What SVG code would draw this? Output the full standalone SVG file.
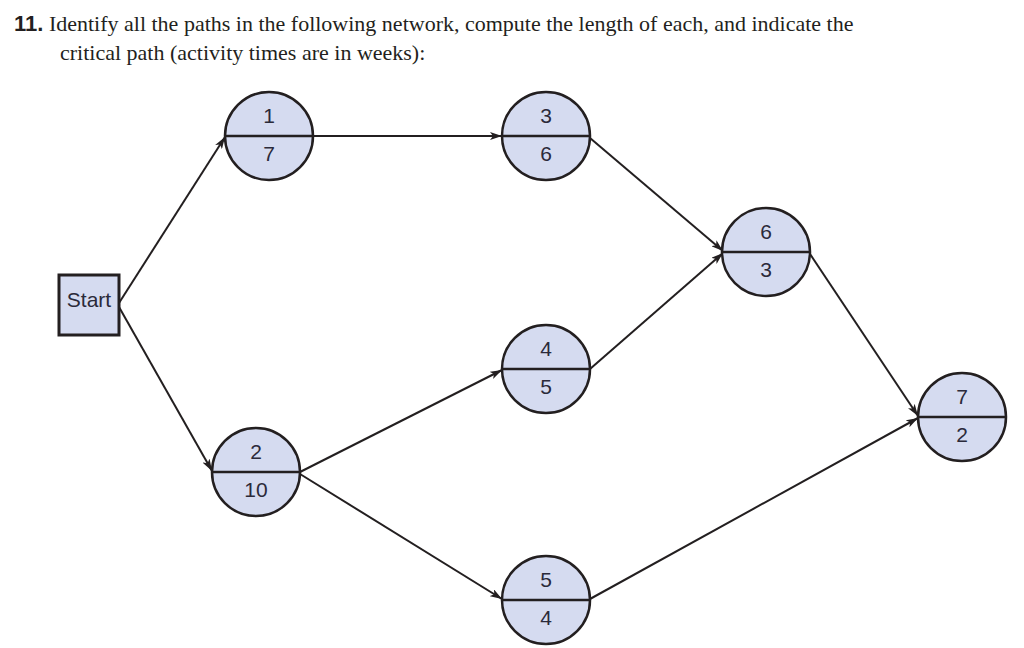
<svg xmlns="http://www.w3.org/2000/svg" width="1024" height="648" viewBox="0 0 1024 648">
<style>
.n circle{fill:#d5dbf0;stroke:#231f20;stroke-width:2.5}
.n line{stroke:#231f20;stroke-width:2.5}
.n text,.s text{font-family:"Liberation Sans",Arial,sans-serif;font-size:21px;fill:#2b2a3a;text-anchor:middle}
.e line{stroke:#231f20;stroke-width:2;marker-end:url(#a)}
.t{font-family:"Liberation Serif","Times New Roman",serif;font-size:22px;fill:#231f20}
</style>
<defs><marker id="a" viewBox="0 0 12 8" refX="12" refY="4" markerWidth="12" markerHeight="8" markerUnits="userSpaceOnUse" orient="auto"><path d="M0,0L12,4L0,8L3,4z" fill="#231f20"/></marker></defs>
<rect width="1024" height="648" fill="#fff"/>
<text class="t" x="14" y="31"><tspan font-family="Liberation Sans,Arial,sans-serif" font-weight="bold">11.</tspan> Identify all the paths in the following network, compute the length of each, and indicate the</text>
<text class="t" x="60" y="60">critical path (activity times are in weeks):</text>
<g class="e">
<line x1="119" y1="303" x2="225" y2="137"/>
<line x1="119" y1="307" x2="212" y2="471"/>
<line x1="313" y1="136" x2="502" y2="136"/>
<line x1="590" y1="138" x2="723" y2="251"/>
<line x1="590" y1="369" x2="723" y2="253"/>
<line x1="300" y1="472" x2="502" y2="370"/>
<line x1="300" y1="474" x2="502" y2="599"/>
<line x1="590" y1="599" x2="918" y2="418"/>
<line x1="810" y1="254" x2="918" y2="416"/>
</g>
<g class="s" id="start"><rect x="59" y="275" width="60" height="60" fill="#d5dbf0" stroke="#231f20" stroke-width="3"/><text x="89" y="307">Start</text></g>
<g class="n" id="n1"><circle cx="269" cy="136" r="44"/><line x1="225" y1="136" x2="313" y2="136"/><text x="269" y="123">1</text><text x="269" y="161">7</text></g>
<g class="n" id="n3"><circle cx="546" cy="136" r="44"/><line x1="502" y1="136" x2="590" y2="136"/><text x="546" y="123">3</text><text x="546" y="161">6</text></g>
<g class="n" id="n6"><circle cx="766" cy="252" r="44"/><line x1="722" y1="252" x2="810" y2="252"/><text x="766" y="239">6</text><text x="766" y="277">3</text></g>
<g class="n" id="n4"><circle cx="546" cy="369" r="44"/><line x1="502" y1="369" x2="590" y2="369"/><text x="546" y="356">4</text><text x="546" y="394">5</text></g>
<g class="n" id="n7"><circle cx="962" cy="417" r="44"/><line x1="918" y1="417" x2="1006" y2="417"/><text x="962" y="404">7</text><text x="962" y="442">2</text></g>
<g class="n" id="n2"><circle cx="256" cy="472" r="44"/><line x1="212" y1="472" x2="300" y2="472"/><text x="256" y="459">2</text><text x="256" y="497">10</text></g>
<g class="n" id="n5"><circle cx="546" cy="600" r="44"/><line x1="502" y1="600" x2="590" y2="600"/><text x="546" y="587">5</text><text x="546" y="625">4</text></g>
</svg>
